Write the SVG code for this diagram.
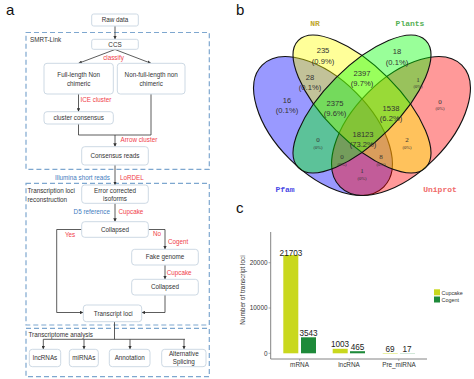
<svg xmlns="http://www.w3.org/2000/svg" width="474" height="379" viewBox="0 0 474 379">
<style>
text{font-family:"Liberation Sans",Arial,sans-serif;fill:#333}
.pl{font-size:15px;fill:#111}
.bx{fill:#fff;stroke:#cdd9e4;stroke-width:1}
.t{font-size:6.3px;text-anchor:middle}
.tl{font-size:6.3px}
.red{font-size:6.3px;fill:#f0404a}
.blu{font-size:6.3px;fill:#3f7cc0}
.dash{fill:none;stroke:#7ea7cf;stroke-width:1.2;stroke-dasharray:5 3}
.ln{fill:none;stroke:#333;stroke-width:0.8}
.ell{stroke:#111;stroke-width:1.1;fill-opacity:0.4}
.vn{font-size:7.6px;text-anchor:middle}
.vs{font-family:"Liberation Serif",serif;font-size:7px;text-anchor:middle}
.vp{font-family:"Liberation Serif",serif;font-size:4.6px;text-anchor:middle}
.set{font-family:"Liberation Mono",monospace;font-size:8px;font-weight:bold;text-anchor:middle}
.ax{font-size:6.4px}
.bl{font-size:8.2px;text-anchor:middle;fill:#222}
</style>
<defs>
<marker id="ah" viewBox="0 0 6 6" refX="6" refY="3" markerWidth="3.5" markerHeight="3.5" orient="auto" markerUnits="userSpaceOnUse">
<path d="M0,0 L6,3 L0,6 z" fill="#333"/>
</marker>
</defs>
<rect width="474" height="379" fill="#fff"/>

<!-- panel labels -->
<text class="pl" x="6" y="15">a</text>
<text class="pl" x="236" y="15">b</text>
<text class="pl" x="236" y="213">c</text>

<!-- ===== Panel a: flowchart ===== -->
<g id="containers">
<rect class="dash" x="26" y="32.5" width="183.3" height="136.8"/>
<rect class="dash" x="26" y="183.3" width="183.3" height="141.7"/>
<rect class="dash" x="26" y="328.3" width="183.3" height="48.4"/>
<text class="tl" x="30" y="41.5">SMRT-Link</text>
<text class="tl" x="27.5" y="193.2">Transcription loci</text>
<text class="tl" x="27.5" y="202.2">reconstruction</text>
<text class="tl" x="28.5" y="337.2">Transcriptome analysis</text>
</g>

<g id="connectors">
<path class="ln" d="M115,26 V39.3" marker-end="url(#ah)"/>
<path class="ln" d="M115,49.5 L78.5,63.3" marker-end="url(#ah)"/>
<path class="ln" d="M115,49.5 L151,63.3" marker-end="url(#ah)"/>
<path class="ln" d="M78.5,94 V111.7" marker-end="url(#ah)"/>
<path class="ln" d="M78.5,124 V135 H115"/>
<path class="ln" d="M151,94 V135 H115"/>
<path class="ln" d="M115,135 V146.7" marker-end="url(#ah)"/>
<path class="ln" d="M115,165 V185" marker-end="url(#ah)"/>
<path class="ln" d="M115,203.3 V221.7" marker-end="url(#ah)"/>
<path class="ln" d="M81.7,229.5 H56.7 V312.5 H83.3" marker-end="url(#ah)"/>
<path class="ln" d="M148.3,229.5 H165 V249.3" marker-end="url(#ah)"/>
<path class="ln" d="M165,265 V279.3" marker-end="url(#ah)"/>
<path class="ln" d="M165,295 V312.5 H141.7" marker-end="url(#ah)"/>
<path class="ln" d="M114.5,321.7 V339.3 M43.3,339.3 H185"/>
<path class="ln" d="M43.3,339.3 V349.3" marker-end="url(#ah)"/>
<path class="ln" d="M84,339.3 V349.3" marker-end="url(#ah)"/>
<path class="ln" d="M130,339.3 V349.3" marker-end="url(#ah)"/>
<path class="ln" d="M184,339.3 V349.3" marker-end="url(#ah)"/>
<text class="red" x="113.5" y="59.5" text-anchor="middle">classify</text>
<text class="red" x="80.5" y="102.3">ICE cluster</text>
<text class="red" x="120.5" y="141.5">Arrow cluster</text>
<text class="blu" x="110" y="179.5" text-anchor="end">Illumina short reads</text>
<text class="red" x="120" y="179.5">LoRDEL</text>
<text class="blu" x="110" y="213.8" text-anchor="end">D5 reference</text>
<text class="red" x="118.5" y="213.8">Cupcake</text>
<text class="red" x="65" y="237.3">Yes</text>
<text class="red" x="153" y="236.3">No</text>
<text class="red" x="168" y="243.8">Cogent</text>
<text class="red" x="166.7" y="274.5">Cupcake</text>
</g>

<g id="n-raw"><rect class="bx" x="91.7" y="14" width="46.6" height="12" rx="2"/><text class="t" x="115" y="22.2">Raw data</text></g>
<g id="n-ccs"><rect class="bx" x="91.7" y="39.3" width="46.6" height="10" rx="2"/><text class="t" x="115" y="46.6">CCS</text></g>
<g id="n-fl"><rect class="bx" x="44" y="63.3" width="69.3" height="30.7" rx="3"/><text class="t" x="78.7" y="77">Full-length Non</text><text class="t" x="78.7" y="85.6">chimeric</text></g>
<g id="n-nfl"><rect class="bx" x="117.3" y="63.3" width="67.7" height="30.7" rx="3"/><text class="t" x="151.2" y="77">Non-full-length non</text><text class="t" x="151.2" y="85.6">chimeric</text></g>
<g id="n-cc"><rect class="bx" x="44" y="111.7" width="69.3" height="12.3" rx="3"/><text class="t" x="78.7" y="120.1">cluster consensus</text></g>
<g id="n-cr"><rect class="bx" x="81.7" y="146.7" width="66.6" height="18.3" rx="3"/><text class="t" x="115" y="158.2">Consensus reads</text></g>
<g id="n-eci"><rect class="bx" x="81.7" y="185" width="66.6" height="18.3" rx="3"/><text class="t" x="115" y="192.8">Error corrected</text><text class="t" x="115" y="201">isoforms</text></g>
<g id="n-col1"><rect class="bx" x="81.7" y="221.7" width="66.6" height="15.6" rx="3"/><text class="t" x="115" y="231.6">Collapsed</text></g>
<g id="n-fake"><rect class="bx" x="131.7" y="249.3" width="66.6" height="15.7" rx="3"/><text class="t" x="165" y="259.3">Fake genome</text></g>
<g id="n-col2"><rect class="bx" x="131.7" y="279.3" width="66.6" height="15.7" rx="3"/><text class="t" x="165" y="289.3">Collapsed</text></g>
<g id="n-tl"><rect class="bx" x="83.3" y="305" width="58.4" height="16.7" rx="3"/><text class="t" x="113.3" y="315.5">Transcript loci</text></g>
<g id="n-lnc"><rect class="bx" x="29.3" y="349.3" width="31.4" height="17.4" rx="3"/><text class="t" x="45" y="360.2">lncRNAs</text></g>
<g id="n-mi"><rect class="bx" x="69.3" y="349.3" width="29" height="17.4" rx="3"/><text class="t" x="83.8" y="360.2">miRNAs</text></g>
<g id="n-ann"><rect class="bx" x="109.3" y="349.3" width="40.7" height="17.4" rx="3"/><text class="t" x="129.7" y="360.2">Annotation</text></g>
<g id="n-as"><rect class="bx" x="161.7" y="349.3" width="44.3" height="17.4" rx="3"/><text class="t" x="183.8" y="356">Alternative</text><text class="t" x="183.8" y="364.4">Splicing</text></g>

<!-- ===== Panel b: Venn ===== -->
<g id="venn">
<ellipse class="ell" cx="323" cy="126" rx="86" ry="47" fill="#0000ff" transform="rotate(45 323 126)"/>
<ellipse class="ell" cx="401" cy="126" rx="86" ry="47" fill="#ff0000" transform="rotate(-45 401 126)"/>
<ellipse class="ell" cx="362" cy="104" rx="90" ry="37" fill="#ffff00" transform="rotate(45 362 104)"/>
<ellipse class="ell" cx="362" cy="104" rx="90" ry="37" fill="#00ff00" transform="rotate(-45 362 104)"/>
<text class="set" x="315" y="26" style="fill:#c0a830">NR</text>
<text class="set" x="410" y="26" style="fill:#55b055">Plants</text>
<text class="set" x="285" y="192" style="fill:#4a4ae6">Pfam</text>
<text class="set" x="440" y="192" style="fill:#f06a6a">Uniprot</text>
<text class="vn" x="323" y="52.7">235</text><text class="vn" x="323" y="63.7">(0.9%)</text>
<text class="vn" x="397" y="53.7">18</text><text class="vn" x="397" y="64.7">(0.1%)</text>
<text class="vn" x="310" y="79.7">28</text><text class="vn" x="310" y="89.7">(0.1%)</text>
<text class="vn" x="362" y="75.7">2397</text><text class="vn" x="362" y="85.7">(9.7%)</text>
<text class="vs" x="418" y="81.5">1</text><text class="vp" x="418" y="87.5">(0%)</text>
<text class="vn" x="287" y="102.7">16</text><text class="vn" x="287" y="112.7">(0.1%)</text>
<text class="vn" x="335" y="105.7">2375</text><text class="vn" x="335" y="115.7">(9.6%)</text>
<text class="vn" x="391" y="110.7">1538</text><text class="vn" x="391" y="120.7">(6.2%)</text>
<text class="vs" x="440" y="103.5">0</text><text class="vp" x="440" y="109.5">(0%)</text>
<text class="vn" x="363" y="136.7">18123</text><text class="vn" x="363" y="146.7">(73.2%)</text>
<text class="vs" x="318" y="142">0</text><text class="vp" x="318" y="148.5">(0%)</text>
<text class="vs" x="407" y="142">2</text><text class="vp" x="407" y="148.5">(0%)</text>
<text class="vs" x="342" y="159">0</text><text class="vp" x="342" y="165.5">(0%)</text>
<text class="vs" x="381" y="159">8</text><text class="vp" x="381" y="165.5">(0%)</text>
<text class="vs" x="362" y="173">1</text><text class="vp" x="362" y="179.5">(0%)</text>
</g>

<!-- ===== Panel c: bar chart ===== -->
<g id="chart">
<path d="M270.7,232 V359 H427" fill="none" stroke="#777" stroke-width="0.9"/>
<path d="M268.5,262.7 H270.7 M268.5,308 H270.7 M268.5,353.3 H270.7 M299.7,359 V361 M349.2,359 V361 M398.8,359 V361" stroke="#777" stroke-width="0.6"/>
<text class="ax" x="267.5" y="265" text-anchor="end">20000</text>
<text class="ax" x="267.5" y="310.3" text-anchor="end">10000</text>
<text class="ax" x="267.5" y="355.6" text-anchor="end">0</text>
<text class="ax" x="245" y="290" text-anchor="middle" transform="rotate(-90 245 290)">Number of transcript loci</text>
<rect x="283.3" y="255" width="15" height="98.3" fill="#c9d81d"/>
<rect x="301" y="337.3" width="15" height="16" fill="#1e8a3a"/>
<rect x="332.7" y="348.8" width="15" height="4.5" fill="#c9d81d"/>
<rect x="350" y="351.2" width="15" height="2.1" fill="#1e8a3a"/>
<rect x="382.7" y="353" width="15" height="0.4" fill="#c9d81d"/>
<rect x="400" y="353.2" width="15" height="0.2" fill="#1e8a3a"/>
<text class="bl" x="291" y="256">21703</text>
<text class="bl" x="308.5" y="336">3543</text>
<text class="bl" x="340" y="347">1003</text>
<text class="bl" x="357.5" y="350">465</text>
<text class="bl" x="390" y="352">69</text>
<text class="bl" x="407" y="352">17</text>
<text class="ax" x="299.5" y="366.5" text-anchor="middle">mRNA</text>
<text class="ax" x="349" y="366.5" text-anchor="middle">lncRNA</text>
<text class="ax" x="399" y="366.5" text-anchor="middle">Pre_miRNA</text>
<rect x="434" y="289.3" width="6" height="6" fill="#c9d81d"/>
<rect x="434" y="296.5" width="6" height="6" fill="#1e8a3a"/>
<text x="441.5" y="294.5" style="font-size:5.4px">Cupcake</text>
<text x="441.5" y="301.7" style="font-size:5.4px">Cogent</text>
</g>
</svg>
